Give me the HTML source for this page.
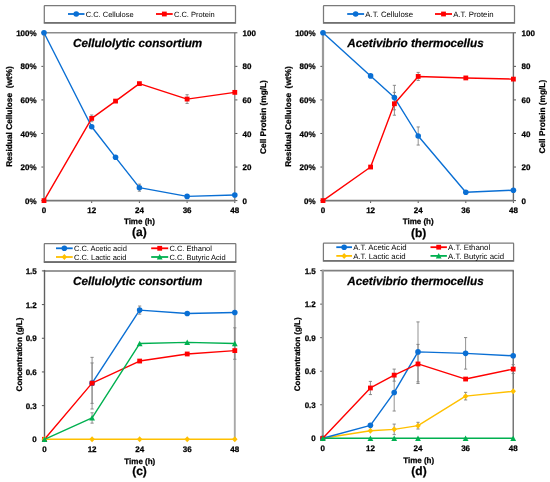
<!DOCTYPE html>
<html><head><meta charset="utf-8"><style>
html,body{margin:0;padding:0;background:#fff;width:550px;height:482px;overflow:hidden}
svg{display:block;filter:blur(0.25px)}
text{font-family:"Liberation Sans", sans-serif;text-rendering:geometricPrecision}
</style></head><body>
<svg width="550" height="482" viewBox="0 0 550 482">
<rect width="550" height="482" fill="#fff"/>
<rect x="44.30" y="5.50" width="191.20" height="17.20" fill="#fff" stroke="#7a7a7a" stroke-width="1.25" rx="0.6"/>
<line x1="43.70" y1="22.95" x2="236.10" y2="22.95" stroke="#6e6e6e" stroke-width="1.6"/>
<line x1="68.00" y1="14.00" x2="84.50" y2="14.00" stroke="#0A6FD4" stroke-width="1.8"/>
<circle cx="76.25" cy="14.00" r="2.80" fill="#0A6FD4"/>
<text x="85.70" y="16.70" font-size="7.5" font-weight="normal" font-style="normal" text-anchor="start" fill="#000">C.C. Cellulose</text>
<line x1="156.00" y1="14.00" x2="172.70" y2="14.00" stroke="#FF0000" stroke-width="1.8"/>
<rect x="161.95" y="11.60" width="4.80" height="4.80" fill="#FF0000"/>
<text x="173.90" y="16.70" font-size="7.5" font-weight="normal" font-style="normal" text-anchor="start" fill="#000">C.C. Protein</text>
<line x1="43.00" y1="32.80" x2="235.40" y2="32.80" stroke="#8c8c8c" stroke-width="1.5"/>
<line x1="234.80" y1="32.80" x2="234.80" y2="200.60" stroke="#707070" stroke-width="1.2"/>
<line x1="44.00" y1="32.05" x2="44.00" y2="200.60" stroke="#9a9a9a" stroke-width="2.0"/>
<line x1="43.00" y1="200.60" x2="235.40" y2="200.60" stroke="#777777" stroke-width="1.8"/>
<line x1="41.40" y1="200.60" x2="43.20" y2="200.60" stroke="#555555" stroke-width="1"/>
<text x="36.60" y="203.70" font-size="8" font-weight="bold" font-style="normal" text-anchor="end" fill="#000" stroke="#000" stroke-width="0.25">0%</text>
<line x1="235.20" y1="200.60" x2="237.40" y2="200.60" stroke="#555555" stroke-width="1"/>
<text x="242.60" y="203.70" font-size="8" font-weight="bold" font-style="normal" text-anchor="start" fill="#000" stroke="#000" stroke-width="0.25">0</text>
<line x1="41.40" y1="167.04" x2="43.20" y2="167.04" stroke="#555555" stroke-width="1"/>
<text x="36.60" y="170.14" font-size="8" font-weight="bold" font-style="normal" text-anchor="end" fill="#000" stroke="#000" stroke-width="0.25">20%</text>
<line x1="235.20" y1="167.04" x2="237.40" y2="167.04" stroke="#555555" stroke-width="1"/>
<text x="242.60" y="170.14" font-size="8" font-weight="bold" font-style="normal" text-anchor="start" fill="#000" stroke="#000" stroke-width="0.25">20</text>
<line x1="41.40" y1="133.48" x2="43.20" y2="133.48" stroke="#555555" stroke-width="1"/>
<text x="36.60" y="136.58" font-size="8" font-weight="bold" font-style="normal" text-anchor="end" fill="#000" stroke="#000" stroke-width="0.25">40%</text>
<line x1="235.20" y1="133.48" x2="237.40" y2="133.48" stroke="#555555" stroke-width="1"/>
<text x="242.60" y="136.58" font-size="8" font-weight="bold" font-style="normal" text-anchor="start" fill="#000" stroke="#000" stroke-width="0.25">40</text>
<line x1="41.40" y1="99.92" x2="43.20" y2="99.92" stroke="#555555" stroke-width="1"/>
<text x="36.60" y="103.02" font-size="8" font-weight="bold" font-style="normal" text-anchor="end" fill="#000" stroke="#000" stroke-width="0.25">60%</text>
<line x1="235.20" y1="99.92" x2="237.40" y2="99.92" stroke="#555555" stroke-width="1"/>
<text x="242.60" y="103.02" font-size="8" font-weight="bold" font-style="normal" text-anchor="start" fill="#000" stroke="#000" stroke-width="0.25">60</text>
<line x1="41.40" y1="66.36" x2="43.20" y2="66.36" stroke="#555555" stroke-width="1"/>
<text x="36.60" y="69.46" font-size="8" font-weight="bold" font-style="normal" text-anchor="end" fill="#000" stroke="#000" stroke-width="0.25">80%</text>
<line x1="235.20" y1="66.36" x2="237.40" y2="66.36" stroke="#555555" stroke-width="1"/>
<text x="242.60" y="69.46" font-size="8" font-weight="bold" font-style="normal" text-anchor="start" fill="#000" stroke="#000" stroke-width="0.25">80</text>
<line x1="41.40" y1="32.80" x2="43.20" y2="32.80" stroke="#555555" stroke-width="1"/>
<text x="36.60" y="35.90" font-size="8" font-weight="bold" font-style="normal" text-anchor="end" fill="#000" stroke="#000" stroke-width="0.25">100%</text>
<line x1="235.20" y1="32.80" x2="237.40" y2="32.80" stroke="#555555" stroke-width="1"/>
<text x="242.60" y="35.90" font-size="8" font-weight="bold" font-style="normal" text-anchor="start" fill="#000" stroke="#000" stroke-width="0.25">100</text>
<text x="44.00" y="213.20" font-size="8" font-weight="bold" font-style="normal" text-anchor="middle" fill="#000" stroke="#000" stroke-width="0.25">0</text>
<line x1="91.70" y1="201.30" x2="91.70" y2="203.00" stroke="#555555" stroke-width="1"/>
<text x="91.70" y="213.20" font-size="8" font-weight="bold" font-style="normal" text-anchor="middle" fill="#000" stroke="#000" stroke-width="0.25">12</text>
<line x1="139.40" y1="201.30" x2="139.40" y2="203.00" stroke="#555555" stroke-width="1"/>
<text x="139.40" y="213.20" font-size="8" font-weight="bold" font-style="normal" text-anchor="middle" fill="#000" stroke="#000" stroke-width="0.25">24</text>
<line x1="187.10" y1="201.30" x2="187.10" y2="203.00" stroke="#555555" stroke-width="1"/>
<text x="187.10" y="213.20" font-size="8" font-weight="bold" font-style="normal" text-anchor="middle" fill="#000" stroke="#000" stroke-width="0.25">36</text>
<line x1="234.80" y1="201.30" x2="234.80" y2="203.00" stroke="#555555" stroke-width="1"/>
<text x="234.80" y="213.20" font-size="8" font-weight="bold" font-style="normal" text-anchor="middle" fill="#000" stroke="#000" stroke-width="0.25">48</text>
<text x="11.50" y="116.50" font-size="8.3" font-weight="bold" font-style="normal" text-anchor="middle" fill="#000" stroke="#000" stroke-width="0.25" transform="rotate(-90 11.5 116.5)">Residual Cellulose&#160; (wt%)</text>
<text x="266.10" y="117.00" font-size="8.3" font-weight="bold" font-style="normal" text-anchor="middle" fill="#000" stroke="#000" stroke-width="0.25" transform="rotate(-90 266.1 117.0)">Cell Protein (mg/L)</text>
<text x="139.40" y="223.90" font-size="8" font-weight="bold" font-style="normal" text-anchor="middle" fill="#000" stroke="#000" stroke-width="0.25">Time (h)</text>
<text x="139.40" y="236.30" font-size="12" font-weight="bold" font-style="normal" text-anchor="middle" fill="#000" stroke="#000" stroke-width="0.25">(a)</text>
<text x="73.00" y="47.00" font-size="11.7" font-weight="bold" font-style="italic" text-anchor="start" fill="#000" stroke="#000" stroke-width="0.25">Cellulolytic consortium</text>
<line x1="91.70" y1="115.02" x2="91.70" y2="121.73" stroke="#7F7F7F" stroke-width="0.85"/>
<line x1="90.10" y1="115.02" x2="93.30" y2="115.02" stroke="#7F7F7F" stroke-width="0.9"/>
<line x1="90.10" y1="121.73" x2="93.30" y2="121.73" stroke="#7F7F7F" stroke-width="0.9"/>
<line x1="187.10" y1="94.72" x2="187.10" y2="103.44" stroke="#7F7F7F" stroke-width="0.85"/>
<line x1="185.50" y1="94.72" x2="188.70" y2="94.72" stroke="#7F7F7F" stroke-width="0.9"/>
<line x1="185.50" y1="103.44" x2="188.70" y2="103.44" stroke="#7F7F7F" stroke-width="0.9"/>
<line x1="139.40" y1="184.16" x2="139.40" y2="191.20" stroke="#7F7F7F" stroke-width="0.85"/>
<line x1="137.80" y1="184.16" x2="141.00" y2="184.16" stroke="#7F7F7F" stroke-width="0.9"/>
<line x1="137.80" y1="191.20" x2="141.00" y2="191.20" stroke="#7F7F7F" stroke-width="0.9"/>
<path d="M44.00 32.80 L91.70 126.77 L115.55 157.31 L139.40 187.68 L187.10 196.41 L234.80 195.06" fill="none" stroke="#0A6FD4" stroke-width="1.4" stroke-linejoin="round"/>
<circle cx="44.00" cy="32.80" r="2.80" fill="#0A6FD4"/>
<circle cx="91.70" cy="126.77" r="2.80" fill="#0A6FD4"/>
<circle cx="115.55" cy="157.31" r="2.80" fill="#0A6FD4"/>
<circle cx="139.40" cy="187.68" r="2.80" fill="#0A6FD4"/>
<circle cx="187.10" cy="196.41" r="2.80" fill="#0A6FD4"/>
<circle cx="234.80" cy="195.06" r="2.80" fill="#0A6FD4"/>
<path d="M44.00 200.60 L91.70 118.38 L115.55 101.09 L139.40 83.64 L187.10 99.08 L234.80 92.37" fill="none" stroke="#FF0000" stroke-width="1.4" stroke-linejoin="round"/>
<rect x="41.60" y="198.20" width="4.80" height="4.80" fill="#FF0000"/>
<rect x="89.30" y="115.98" width="4.80" height="4.80" fill="#FF0000"/>
<rect x="113.15" y="98.69" width="4.80" height="4.80" fill="#FF0000"/>
<rect x="137.00" y="81.24" width="4.80" height="4.80" fill="#FF0000"/>
<rect x="184.70" y="96.68" width="4.80" height="4.80" fill="#FF0000"/>
<rect x="232.40" y="89.97" width="4.80" height="4.80" fill="#FF0000"/>
<rect x="323.50" y="5.50" width="191.00" height="17.20" fill="#fff" stroke="#7a7a7a" stroke-width="1.25" rx="0.6"/>
<line x1="322.90" y1="22.95" x2="515.10" y2="22.95" stroke="#6e6e6e" stroke-width="1.6"/>
<line x1="347.20" y1="14.00" x2="364.10" y2="14.00" stroke="#0A6FD4" stroke-width="1.8"/>
<circle cx="355.65" cy="14.00" r="2.80" fill="#0A6FD4"/>
<text x="365.30" y="16.70" font-size="7.8" font-weight="normal" font-style="normal" text-anchor="start" fill="#000">A.T. Cellulose</text>
<line x1="435.00" y1="14.00" x2="452.00" y2="14.00" stroke="#FF0000" stroke-width="1.8"/>
<rect x="441.10" y="11.60" width="4.80" height="4.80" fill="#FF0000"/>
<text x="453.20" y="16.70" font-size="7.8" font-weight="normal" font-style="normal" text-anchor="start" fill="#000">A.T. Protein</text>
<line x1="321.90" y1="32.80" x2="514.10" y2="32.80" stroke="#8c8c8c" stroke-width="1.5"/>
<line x1="513.40" y1="32.80" x2="513.40" y2="200.60" stroke="#6a6a6a" stroke-width="1.4"/>
<line x1="323.00" y1="32.05" x2="323.00" y2="200.60" stroke="#9a9a9a" stroke-width="2.2"/>
<line x1="321.90" y1="200.60" x2="514.10" y2="200.60" stroke="#777777" stroke-width="1.7"/>
<line x1="320.40" y1="200.60" x2="322.10" y2="200.60" stroke="#555555" stroke-width="1"/>
<text x="315.60" y="203.70" font-size="8" font-weight="bold" font-style="normal" text-anchor="end" fill="#000" stroke="#000" stroke-width="0.25">0%</text>
<line x1="513.90" y1="200.60" x2="516.00" y2="200.60" stroke="#555555" stroke-width="1"/>
<text x="521.60" y="203.70" font-size="8" font-weight="bold" font-style="normal" text-anchor="start" fill="#000" stroke="#000" stroke-width="0.25">0</text>
<line x1="320.40" y1="167.04" x2="322.10" y2="167.04" stroke="#555555" stroke-width="1"/>
<text x="315.60" y="170.14" font-size="8" font-weight="bold" font-style="normal" text-anchor="end" fill="#000" stroke="#000" stroke-width="0.25">20%</text>
<line x1="513.90" y1="167.04" x2="516.00" y2="167.04" stroke="#555555" stroke-width="1"/>
<text x="521.60" y="170.14" font-size="8" font-weight="bold" font-style="normal" text-anchor="start" fill="#000" stroke="#000" stroke-width="0.25">20</text>
<line x1="320.40" y1="133.48" x2="322.10" y2="133.48" stroke="#555555" stroke-width="1"/>
<text x="315.60" y="136.58" font-size="8" font-weight="bold" font-style="normal" text-anchor="end" fill="#000" stroke="#000" stroke-width="0.25">40%</text>
<line x1="513.90" y1="133.48" x2="516.00" y2="133.48" stroke="#555555" stroke-width="1"/>
<text x="521.60" y="136.58" font-size="8" font-weight="bold" font-style="normal" text-anchor="start" fill="#000" stroke="#000" stroke-width="0.25">40</text>
<line x1="320.40" y1="99.92" x2="322.10" y2="99.92" stroke="#555555" stroke-width="1"/>
<text x="315.60" y="103.02" font-size="8" font-weight="bold" font-style="normal" text-anchor="end" fill="#000" stroke="#000" stroke-width="0.25">60%</text>
<line x1="513.90" y1="99.92" x2="516.00" y2="99.92" stroke="#555555" stroke-width="1"/>
<text x="521.60" y="103.02" font-size="8" font-weight="bold" font-style="normal" text-anchor="start" fill="#000" stroke="#000" stroke-width="0.25">60</text>
<line x1="320.40" y1="66.36" x2="322.10" y2="66.36" stroke="#555555" stroke-width="1"/>
<text x="315.60" y="69.46" font-size="8" font-weight="bold" font-style="normal" text-anchor="end" fill="#000" stroke="#000" stroke-width="0.25">80%</text>
<line x1="513.90" y1="66.36" x2="516.00" y2="66.36" stroke="#555555" stroke-width="1"/>
<text x="521.60" y="69.46" font-size="8" font-weight="bold" font-style="normal" text-anchor="start" fill="#000" stroke="#000" stroke-width="0.25">80</text>
<line x1="320.40" y1="32.80" x2="322.10" y2="32.80" stroke="#555555" stroke-width="1"/>
<text x="315.60" y="35.90" font-size="8" font-weight="bold" font-style="normal" text-anchor="end" fill="#000" stroke="#000" stroke-width="0.25">100%</text>
<line x1="513.90" y1="32.80" x2="516.00" y2="32.80" stroke="#555555" stroke-width="1"/>
<text x="521.60" y="35.90" font-size="8" font-weight="bold" font-style="normal" text-anchor="start" fill="#000" stroke="#000" stroke-width="0.25">100</text>
<text x="323.00" y="213.20" font-size="8" font-weight="bold" font-style="normal" text-anchor="middle" fill="#000" stroke="#000" stroke-width="0.25">0</text>
<line x1="370.60" y1="201.25" x2="370.60" y2="203.00" stroke="#555555" stroke-width="1"/>
<text x="370.60" y="213.20" font-size="8" font-weight="bold" font-style="normal" text-anchor="middle" fill="#000" stroke="#000" stroke-width="0.25">12</text>
<line x1="418.20" y1="201.25" x2="418.20" y2="203.00" stroke="#555555" stroke-width="1"/>
<text x="418.20" y="213.20" font-size="8" font-weight="bold" font-style="normal" text-anchor="middle" fill="#000" stroke="#000" stroke-width="0.25">24</text>
<line x1="465.80" y1="201.25" x2="465.80" y2="203.00" stroke="#555555" stroke-width="1"/>
<text x="465.80" y="213.20" font-size="8" font-weight="bold" font-style="normal" text-anchor="middle" fill="#000" stroke="#000" stroke-width="0.25">36</text>
<line x1="513.40" y1="201.25" x2="513.40" y2="203.00" stroke="#555555" stroke-width="1"/>
<text x="513.40" y="213.20" font-size="8" font-weight="bold" font-style="normal" text-anchor="middle" fill="#000" stroke="#000" stroke-width="0.25">48</text>
<text x="290.50" y="116.50" font-size="8.3" font-weight="bold" font-style="normal" text-anchor="middle" fill="#000" stroke="#000" stroke-width="0.25" transform="rotate(-90 290.5 116.5)">Residual Cellulose&#160; (wt%)</text>
<text x="544.80" y="116.70" font-size="8.3" font-weight="bold" font-style="normal" text-anchor="middle" fill="#000" stroke="#000" stroke-width="0.25" transform="rotate(-90 544.8 116.7)">Cell Protein (mg/L)</text>
<text x="418.20" y="223.90" font-size="8" font-weight="bold" font-style="normal" text-anchor="middle" fill="#000" stroke="#000" stroke-width="0.25">Time (h)</text>
<text x="418.60" y="236.60" font-size="12" font-weight="bold" font-style="normal" text-anchor="middle" fill="#000" stroke="#000" stroke-width="0.25">(b)</text>
<text x="347.30" y="46.60" font-size="11.7" font-weight="bold" font-style="italic" text-anchor="start" fill="#000" stroke="#000" stroke-width="0.25">Acetivibrio thermocellus</text>
<line x1="394.40" y1="85.32" x2="394.40" y2="109.82" stroke="#7F7F7F" stroke-width="0.85"/>
<line x1="392.80" y1="85.32" x2="396.00" y2="85.32" stroke="#7F7F7F" stroke-width="0.9"/>
<line x1="392.80" y1="109.82" x2="396.00" y2="109.82" stroke="#7F7F7F" stroke-width="0.9"/>
<line x1="418.20" y1="126.94" x2="418.20" y2="145.06" stroke="#7F7F7F" stroke-width="0.85"/>
<line x1="416.60" y1="126.94" x2="419.80" y2="126.94" stroke="#7F7F7F" stroke-width="0.9"/>
<line x1="416.60" y1="145.06" x2="419.80" y2="145.06" stroke="#7F7F7F" stroke-width="0.9"/>
<line x1="394.40" y1="92.37" x2="394.40" y2="115.19" stroke="#7F7F7F" stroke-width="0.85"/>
<line x1="392.80" y1="92.37" x2="396.00" y2="92.37" stroke="#7F7F7F" stroke-width="0.9"/>
<line x1="392.80" y1="115.19" x2="396.00" y2="115.19" stroke="#7F7F7F" stroke-width="0.9"/>
<line x1="418.20" y1="72.40" x2="418.20" y2="80.46" stroke="#7F7F7F" stroke-width="0.85"/>
<line x1="416.60" y1="72.40" x2="419.80" y2="72.40" stroke="#7F7F7F" stroke-width="0.9"/>
<line x1="416.60" y1="80.46" x2="419.80" y2="80.46" stroke="#7F7F7F" stroke-width="0.9"/>
<path d="M323.00 32.80 L370.60 75.92 L394.40 97.57 L418.20 136.00 L465.80 192.21 L513.40 190.20" fill="none" stroke="#0A6FD4" stroke-width="1.4" stroke-linejoin="round"/>
<circle cx="323.00" cy="32.80" r="2.80" fill="#0A6FD4"/>
<circle cx="370.60" cy="75.92" r="2.80" fill="#0A6FD4"/>
<circle cx="394.40" cy="97.57" r="2.80" fill="#0A6FD4"/>
<circle cx="418.20" cy="136.00" r="2.80" fill="#0A6FD4"/>
<circle cx="465.80" cy="192.21" r="2.80" fill="#0A6FD4"/>
<circle cx="513.40" cy="190.20" r="2.80" fill="#0A6FD4"/>
<path d="M323.00 200.60 L370.60 167.04 L394.40 103.78 L418.20 76.43 L465.80 77.94 L513.40 79.11" fill="none" stroke="#FF0000" stroke-width="1.4" stroke-linejoin="round"/>
<rect x="320.60" y="198.20" width="4.80" height="4.80" fill="#FF0000"/>
<rect x="368.20" y="164.64" width="4.80" height="4.80" fill="#FF0000"/>
<rect x="392.00" y="101.38" width="4.80" height="4.80" fill="#FF0000"/>
<rect x="415.80" y="74.03" width="4.80" height="4.80" fill="#FF0000"/>
<rect x="463.40" y="75.54" width="4.80" height="4.80" fill="#FF0000"/>
<rect x="511.00" y="76.71" width="4.80" height="4.80" fill="#FF0000"/>
<rect x="44.30" y="243.70" width="191.50" height="18.20" fill="#fff" stroke="#7a7a7a" stroke-width="1.25" rx="0.6"/>
<line x1="43.70" y1="262.15" x2="236.40" y2="262.15" stroke="#6e6e6e" stroke-width="1.6"/>
<line x1="56.00" y1="248.30" x2="72.70" y2="248.30" stroke="#0A6FD4" stroke-width="1.8"/>
<circle cx="64.35" cy="248.30" r="2.80" fill="#0A6FD4"/>
<text x="73.90" y="251.00" font-size="7.5" font-weight="normal" font-style="normal" text-anchor="start" fill="#000">C.C. Acetic acid</text>
<line x1="151.20" y1="248.30" x2="168.20" y2="248.30" stroke="#FF0000" stroke-width="1.8"/>
<rect x="157.30" y="245.90" width="4.80" height="4.80" fill="#FF0000"/>
<text x="169.40" y="251.00" font-size="7.5" font-weight="normal" font-style="normal" text-anchor="start" fill="#000">C.C. Ethanol</text>
<line x1="56.00" y1="257.00" x2="72.70" y2="257.00" stroke="#FFC000" stroke-width="1.8"/>
<path d="M64.35 254.00L67.11 257.00L64.35 260.00L61.59 257.00Z" fill="#FFC000"/>
<text x="73.90" y="259.70" font-size="7.5" font-weight="normal" font-style="normal" text-anchor="start" fill="#000">C.C. Lactic acid</text>
<line x1="151.20" y1="257.00" x2="168.20" y2="257.00" stroke="#00B050" stroke-width="1.8"/>
<path d="M159.70 254.10L162.60 259.61L156.80 259.61Z" fill="#00B050"/>
<text x="169.40" y="259.70" font-size="7.5" font-weight="normal" font-style="normal" text-anchor="start" fill="#000">C.C. Butyric Acid</text>
<line x1="43.80" y1="270.90" x2="235.75" y2="270.90" stroke="#999999" stroke-width="2.0"/>
<line x1="234.80" y1="270.90" x2="234.80" y2="439.30" stroke="#a8a8a8" stroke-width="1.9"/>
<line x1="44.50" y1="269.90" x2="44.50" y2="439.30" stroke="#606060" stroke-width="1.4"/>
<line x1="43.80" y1="439.30" x2="235.75" y2="439.30" stroke="none" stroke-width="1.6"/>
<line x1="41.90" y1="439.30" x2="44.00" y2="439.30" stroke="#555555" stroke-width="1"/>
<text x="36.80" y="442.40" font-size="8" font-weight="bold" font-style="normal" text-anchor="end" fill="#000" stroke="#000" stroke-width="0.25">0</text>
<line x1="41.90" y1="405.62" x2="44.00" y2="405.62" stroke="#555555" stroke-width="1"/>
<text x="36.80" y="408.72" font-size="8" font-weight="bold" font-style="normal" text-anchor="end" fill="#000" stroke="#000" stroke-width="0.25">0.3</text>
<line x1="41.90" y1="371.94" x2="44.00" y2="371.94" stroke="#555555" stroke-width="1"/>
<text x="36.80" y="375.04" font-size="8" font-weight="bold" font-style="normal" text-anchor="end" fill="#000" stroke="#000" stroke-width="0.25">0.6</text>
<line x1="41.90" y1="338.26" x2="44.00" y2="338.26" stroke="#555555" stroke-width="1"/>
<text x="36.80" y="341.36" font-size="8" font-weight="bold" font-style="normal" text-anchor="end" fill="#000" stroke="#000" stroke-width="0.25">0.9</text>
<line x1="41.90" y1="304.58" x2="44.00" y2="304.58" stroke="#555555" stroke-width="1"/>
<text x="36.80" y="307.68" font-size="8" font-weight="bold" font-style="normal" text-anchor="end" fill="#000" stroke="#000" stroke-width="0.25">1.2</text>
<line x1="41.90" y1="270.90" x2="44.00" y2="270.90" stroke="#555555" stroke-width="1"/>
<text x="36.80" y="274.00" font-size="8" font-weight="bold" font-style="normal" text-anchor="end" fill="#000" stroke="#000" stroke-width="0.25">1.5</text>
<text x="44.50" y="451.90" font-size="8" font-weight="bold" font-style="normal" text-anchor="middle" fill="#000" stroke="#000" stroke-width="0.25">0</text>
<text x="92.08" y="451.90" font-size="8" font-weight="bold" font-style="normal" text-anchor="middle" fill="#000" stroke="#000" stroke-width="0.25">12</text>
<text x="139.65" y="451.90" font-size="8" font-weight="bold" font-style="normal" text-anchor="middle" fill="#000" stroke="#000" stroke-width="0.25">24</text>
<text x="187.22" y="451.90" font-size="8" font-weight="bold" font-style="normal" text-anchor="middle" fill="#000" stroke="#000" stroke-width="0.25">36</text>
<text x="234.80" y="451.90" font-size="8" font-weight="bold" font-style="normal" text-anchor="middle" fill="#000" stroke="#000" stroke-width="0.25">48</text>
<text x="21.60" y="354.50" font-size="8" font-weight="bold" font-style="normal" text-anchor="middle" fill="#000" stroke="#000" stroke-width="0.25" transform="rotate(-90 21.6 354.5)">Concentration (g/L)</text>
<text x="139.80" y="464.00" font-size="8" font-weight="bold" font-style="normal" text-anchor="middle" fill="#000" stroke="#000" stroke-width="0.25">Time (h)</text>
<text x="139.50" y="475.00" font-size="12" font-weight="bold" font-style="normal" text-anchor="middle" fill="#000" stroke="#000" stroke-width="0.25">(c)</text>
<text x="73.10" y="285.10" font-size="11.7" font-weight="bold" font-style="italic" text-anchor="start" fill="#000" stroke="#000" stroke-width="0.25">Cellulolytic consortium</text>
<line x1="92.08" y1="362.96" x2="92.08" y2="403.37" stroke="#7F7F7F" stroke-width="0.85"/>
<line x1="90.48" y1="362.96" x2="93.68" y2="362.96" stroke="#7F7F7F" stroke-width="0.9"/>
<line x1="90.48" y1="403.37" x2="93.68" y2="403.37" stroke="#7F7F7F" stroke-width="0.9"/>
<line x1="92.08" y1="357.35" x2="92.08" y2="408.99" stroke="#7F7F7F" stroke-width="0.85"/>
<line x1="90.48" y1="357.35" x2="93.68" y2="357.35" stroke="#7F7F7F" stroke-width="0.9"/>
<line x1="90.48" y1="408.99" x2="93.68" y2="408.99" stroke="#7F7F7F" stroke-width="0.9"/>
<line x1="139.65" y1="306.04" x2="139.65" y2="314.12" stroke="#7F7F7F" stroke-width="0.85"/>
<line x1="138.05" y1="306.04" x2="141.25" y2="306.04" stroke="#7F7F7F" stroke-width="0.9"/>
<line x1="138.05" y1="314.12" x2="141.25" y2="314.12" stroke="#7F7F7F" stroke-width="0.9"/>
<line x1="92.08" y1="412.81" x2="92.08" y2="423.13" stroke="#7F7F7F" stroke-width="0.85"/>
<line x1="90.48" y1="412.81" x2="93.68" y2="412.81" stroke="#7F7F7F" stroke-width="0.9"/>
<line x1="90.48" y1="423.13" x2="93.68" y2="423.13" stroke="#7F7F7F" stroke-width="0.9"/>
<line x1="234.80" y1="327.82" x2="234.80" y2="359.25" stroke="#7F7F7F" stroke-width="0.85"/>
<line x1="233.20" y1="327.82" x2="236.40" y2="327.82" stroke="#7F7F7F" stroke-width="0.9"/>
<line x1="233.20" y1="359.25" x2="236.40" y2="359.25" stroke="#7F7F7F" stroke-width="0.9"/>
<path d="M92.08 383.17 L139.65 310.08 L187.22 313.45 L234.80 312.44" fill="none" stroke="#0A6FD4" stroke-width="1.4" stroke-linejoin="round"/>
<circle cx="92.08" cy="383.17" r="2.80" fill="#0A6FD4"/>
<circle cx="139.65" cy="310.08" r="2.80" fill="#0A6FD4"/>
<circle cx="187.22" cy="313.45" r="2.80" fill="#0A6FD4"/>
<circle cx="234.80" cy="312.44" r="2.80" fill="#0A6FD4"/>
<path d="M44.50 439.30 L92.08 383.17 L139.65 361.05 L187.22 353.98 L234.80 350.61" fill="none" stroke="#FF0000" stroke-width="1.4" stroke-linejoin="round"/>
<rect x="42.10" y="436.90" width="4.80" height="4.80" fill="#FF0000"/>
<rect x="89.68" y="380.77" width="4.80" height="4.80" fill="#FF0000"/>
<rect x="137.25" y="358.65" width="4.80" height="4.80" fill="#FF0000"/>
<rect x="184.82" y="351.58" width="4.80" height="4.80" fill="#FF0000"/>
<rect x="232.40" y="348.21" width="4.80" height="4.80" fill="#FF0000"/>
<path d="M44.50 439.30 L92.08 439.30 L139.65 439.30 L187.22 439.30 L234.80 439.30" fill="none" stroke="#FFC000" stroke-width="1.4" stroke-linejoin="round"/>
<path d="M44.50 436.30L47.26 439.30L44.50 442.30L41.74 439.30Z" fill="#FFC000"/>
<path d="M92.08 436.30L94.84 439.30L92.08 442.30L89.32 439.30Z" fill="#FFC000"/>
<path d="M139.65 436.30L142.41 439.30L139.65 442.30L136.89 439.30Z" fill="#FFC000"/>
<path d="M187.22 436.30L189.98 439.30L187.22 442.30L184.47 439.30Z" fill="#FFC000"/>
<path d="M234.80 436.30L237.56 439.30L234.80 442.30L232.04 439.30Z" fill="#FFC000"/>
<path d="M44.50 439.30 L92.08 417.97 L139.65 343.54 L187.22 342.41 L234.80 343.54" fill="none" stroke="#00B050" stroke-width="1.4" stroke-linejoin="round"/>
<path d="M44.50 436.40L47.40 441.91L41.60 441.91Z" fill="#00B050"/>
<path d="M92.08 415.07L94.98 420.58L89.18 420.58Z" fill="#00B050"/>
<path d="M139.65 340.64L142.55 346.15L136.75 346.15Z" fill="#00B050"/>
<path d="M187.22 339.51L190.12 345.02L184.32 345.02Z" fill="#00B050"/>
<path d="M234.80 340.64L237.70 346.15L231.90 346.15Z" fill="#00B050"/>
<rect x="323.40" y="243.10" width="190.20" height="17.60" fill="#fff" stroke="#7a7a7a" stroke-width="1.25" rx="0.6"/>
<line x1="322.80" y1="260.95" x2="514.20" y2="260.95" stroke="#6e6e6e" stroke-width="1.6"/>
<line x1="336.30" y1="247.20" x2="352.00" y2="247.20" stroke="#0A6FD4" stroke-width="1.8"/>
<circle cx="344.15" cy="247.20" r="2.80" fill="#0A6FD4"/>
<text x="353.20" y="249.90" font-size="7.8" font-weight="normal" font-style="normal" text-anchor="start" fill="#000">A.T. Acetic Acid</text>
<line x1="430.50" y1="247.20" x2="446.90" y2="247.20" stroke="#FF0000" stroke-width="1.8"/>
<rect x="436.30" y="244.80" width="4.80" height="4.80" fill="#FF0000"/>
<text x="448.10" y="249.90" font-size="7.8" font-weight="normal" font-style="normal" text-anchor="start" fill="#000">A.T. Ethanol</text>
<line x1="336.30" y1="255.90" x2="352.00" y2="255.90" stroke="#FFC000" stroke-width="1.8"/>
<path d="M344.15 252.90L346.91 255.90L344.15 258.90L341.39 255.90Z" fill="#FFC000"/>
<text x="353.20" y="258.60" font-size="7.8" font-weight="normal" font-style="normal" text-anchor="start" fill="#000">A.T. Lactic acid</text>
<line x1="430.50" y1="255.90" x2="446.90" y2="255.90" stroke="#00B050" stroke-width="1.8"/>
<path d="M438.70 253.00L441.60 258.51L435.80 258.51Z" fill="#00B050"/>
<text x="448.10" y="258.60" font-size="7.8" font-weight="normal" font-style="normal" text-anchor="start" fill="#000">A.T. Butyric acid</text>
<line x1="321.70" y1="270.60" x2="513.80" y2="270.60" stroke="#808080" stroke-width="1.6"/>
<line x1="513.20" y1="270.60" x2="513.20" y2="438.30" stroke="#555555" stroke-width="1.2"/>
<line x1="322.80" y1="269.80" x2="322.80" y2="438.30" stroke="#9a9a9a" stroke-width="2.2"/>
<line x1="321.70" y1="438.30" x2="513.80" y2="438.30" stroke="none" stroke-width="1.6"/>
<line x1="320.20" y1="438.30" x2="321.90" y2="438.30" stroke="#555555" stroke-width="1"/>
<text x="315.80" y="441.40" font-size="8" font-weight="bold" font-style="normal" text-anchor="end" fill="#000" stroke="#000" stroke-width="0.25">0</text>
<line x1="320.20" y1="404.76" x2="321.90" y2="404.76" stroke="#555555" stroke-width="1"/>
<text x="315.80" y="407.86" font-size="8" font-weight="bold" font-style="normal" text-anchor="end" fill="#000" stroke="#000" stroke-width="0.25">0.3</text>
<line x1="320.20" y1="371.22" x2="321.90" y2="371.22" stroke="#555555" stroke-width="1"/>
<text x="315.80" y="374.32" font-size="8" font-weight="bold" font-style="normal" text-anchor="end" fill="#000" stroke="#000" stroke-width="0.25">0.6</text>
<line x1="320.20" y1="337.68" x2="321.90" y2="337.68" stroke="#555555" stroke-width="1"/>
<text x="315.80" y="340.78" font-size="8" font-weight="bold" font-style="normal" text-anchor="end" fill="#000" stroke="#000" stroke-width="0.25">0.9</text>
<line x1="320.20" y1="304.14" x2="321.90" y2="304.14" stroke="#555555" stroke-width="1"/>
<text x="315.80" y="307.24" font-size="8" font-weight="bold" font-style="normal" text-anchor="end" fill="#000" stroke="#000" stroke-width="0.25">1.2</text>
<line x1="320.20" y1="270.60" x2="321.90" y2="270.60" stroke="#555555" stroke-width="1"/>
<text x="315.80" y="273.70" font-size="8" font-weight="bold" font-style="normal" text-anchor="end" fill="#000" stroke="#000" stroke-width="0.25">1.5</text>
<text x="322.80" y="450.90" font-size="8" font-weight="bold" font-style="normal" text-anchor="middle" fill="#000" stroke="#000" stroke-width="0.25">0</text>
<text x="370.40" y="450.90" font-size="8" font-weight="bold" font-style="normal" text-anchor="middle" fill="#000" stroke="#000" stroke-width="0.25">12</text>
<text x="418.00" y="450.90" font-size="8" font-weight="bold" font-style="normal" text-anchor="middle" fill="#000" stroke="#000" stroke-width="0.25">24</text>
<text x="465.60" y="450.90" font-size="8" font-weight="bold" font-style="normal" text-anchor="middle" fill="#000" stroke="#000" stroke-width="0.25">36</text>
<text x="513.20" y="450.90" font-size="8" font-weight="bold" font-style="normal" text-anchor="middle" fill="#000" stroke="#000" stroke-width="0.25">48</text>
<text x="300.10" y="354.30" font-size="8" font-weight="bold" font-style="normal" text-anchor="middle" fill="#000" stroke="#000" stroke-width="0.25" transform="rotate(-90 300.1 354.3)">Concentration (g/L)</text>
<text x="418.70" y="462.50" font-size="8" font-weight="bold" font-style="normal" text-anchor="middle" fill="#000" stroke="#000" stroke-width="0.25">Time (h)</text>
<text x="419.00" y="475.00" font-size="12" font-weight="bold" font-style="normal" text-anchor="middle" fill="#000" stroke="#000" stroke-width="0.25">(d)</text>
<text x="347.30" y="285.10" font-size="11.7" font-weight="bold" font-style="italic" text-anchor="start" fill="#000" stroke="#000" stroke-width="0.25">Acetivibrio thermocellus</text>
<line x1="394.20" y1="373.90" x2="394.20" y2="411.02" stroke="#7F7F7F" stroke-width="0.85"/>
<line x1="392.60" y1="373.90" x2="395.80" y2="373.90" stroke="#7F7F7F" stroke-width="0.9"/>
<line x1="392.60" y1="411.02" x2="395.80" y2="411.02" stroke="#7F7F7F" stroke-width="0.9"/>
<line x1="418.00" y1="321.92" x2="418.00" y2="381.84" stroke="#7F7F7F" stroke-width="0.85"/>
<line x1="416.40" y1="321.92" x2="419.60" y2="321.92" stroke="#7F7F7F" stroke-width="0.9"/>
<line x1="416.40" y1="381.84" x2="419.60" y2="381.84" stroke="#7F7F7F" stroke-width="0.9"/>
<line x1="465.60" y1="337.57" x2="465.60" y2="369.10" stroke="#7F7F7F" stroke-width="0.85"/>
<line x1="464.00" y1="337.57" x2="467.20" y2="337.57" stroke="#7F7F7F" stroke-width="0.9"/>
<line x1="464.00" y1="369.10" x2="467.20" y2="369.10" stroke="#7F7F7F" stroke-width="0.9"/>
<line x1="370.40" y1="381.39" x2="370.40" y2="394.59" stroke="#7F7F7F" stroke-width="0.85"/>
<line x1="368.80" y1="381.39" x2="372.00" y2="381.39" stroke="#7F7F7F" stroke-width="0.9"/>
<line x1="368.80" y1="394.59" x2="372.00" y2="394.59" stroke="#7F7F7F" stroke-width="0.9"/>
<line x1="394.20" y1="369.10" x2="394.20" y2="381.17" stroke="#7F7F7F" stroke-width="0.85"/>
<line x1="392.60" y1="369.10" x2="395.80" y2="369.10" stroke="#7F7F7F" stroke-width="0.9"/>
<line x1="392.60" y1="381.17" x2="395.80" y2="381.17" stroke="#7F7F7F" stroke-width="0.9"/>
<line x1="418.00" y1="344.39" x2="418.00" y2="383.52" stroke="#7F7F7F" stroke-width="0.85"/>
<line x1="416.40" y1="344.39" x2="419.60" y2="344.39" stroke="#7F7F7F" stroke-width="0.9"/>
<line x1="416.40" y1="383.52" x2="419.60" y2="383.52" stroke="#7F7F7F" stroke-width="0.9"/>
<line x1="513.20" y1="364.62" x2="513.20" y2="373.57" stroke="#7F7F7F" stroke-width="0.85"/>
<line x1="511.60" y1="364.62" x2="514.80" y2="364.62" stroke="#7F7F7F" stroke-width="0.9"/>
<line x1="511.60" y1="373.57" x2="514.80" y2="373.57" stroke="#7F7F7F" stroke-width="0.9"/>
<line x1="394.20" y1="424.10" x2="394.20" y2="434.61" stroke="#7F7F7F" stroke-width="0.85"/>
<line x1="392.60" y1="424.10" x2="395.80" y2="424.10" stroke="#7F7F7F" stroke-width="0.9"/>
<line x1="392.60" y1="434.61" x2="395.80" y2="434.61" stroke="#7F7F7F" stroke-width="0.9"/>
<line x1="418.00" y1="422.31" x2="418.00" y2="429.02" stroke="#7F7F7F" stroke-width="0.85"/>
<line x1="416.40" y1="422.31" x2="419.60" y2="422.31" stroke="#7F7F7F" stroke-width="0.9"/>
<line x1="416.40" y1="429.02" x2="419.60" y2="429.02" stroke="#7F7F7F" stroke-width="0.9"/>
<line x1="465.60" y1="392.35" x2="465.60" y2="399.95" stroke="#7F7F7F" stroke-width="0.85"/>
<line x1="464.00" y1="392.35" x2="467.20" y2="392.35" stroke="#7F7F7F" stroke-width="0.9"/>
<line x1="464.00" y1="399.95" x2="467.20" y2="399.95" stroke="#7F7F7F" stroke-width="0.9"/>
<path d="M322.80 438.30 L370.40 430.81 L394.20 429.36 L418.00 425.67 L465.60 396.15 L513.20 391.34" fill="none" stroke="#FFC000" stroke-width="1.4" stroke-linejoin="round"/>
<path d="M322.80 435.30L325.56 438.30L322.80 441.30L320.04 438.30Z" fill="#FFC000"/>
<path d="M370.40 427.81L373.16 430.81L370.40 433.81L367.64 430.81Z" fill="#FFC000"/>
<path d="M394.20 426.36L396.96 429.36L394.20 432.36L391.44 429.36Z" fill="#FFC000"/>
<path d="M418.00 422.67L420.76 425.67L418.00 428.67L415.24 425.67Z" fill="#FFC000"/>
<path d="M465.60 393.15L468.36 396.15L465.60 399.15L462.84 396.15Z" fill="#FFC000"/>
<path d="M513.20 388.34L515.96 391.34L513.20 394.34L510.44 391.34Z" fill="#FFC000"/>
<path d="M322.80 438.30 L370.40 425.33 L394.20 392.46 L418.00 351.88 L465.60 353.33 L513.20 355.79" fill="none" stroke="#0A6FD4" stroke-width="1.4" stroke-linejoin="round"/>
<circle cx="322.80" cy="438.30" r="2.80" fill="#0A6FD4"/>
<circle cx="370.40" cy="425.33" r="2.80" fill="#0A6FD4"/>
<circle cx="394.20" cy="392.46" r="2.80" fill="#0A6FD4"/>
<circle cx="418.00" cy="351.88" r="2.80" fill="#0A6FD4"/>
<circle cx="465.60" cy="353.33" r="2.80" fill="#0A6FD4"/>
<circle cx="513.20" cy="355.79" r="2.80" fill="#0A6FD4"/>
<path d="M322.80 438.30 L370.40 387.99 L394.20 375.13 L418.00 363.95 L465.60 379.05 L513.20 369.10" fill="none" stroke="#FF0000" stroke-width="1.4" stroke-linejoin="round"/>
<rect x="320.40" y="435.90" width="4.80" height="4.80" fill="#FF0000"/>
<rect x="368.00" y="385.59" width="4.80" height="4.80" fill="#FF0000"/>
<rect x="391.80" y="372.73" width="4.80" height="4.80" fill="#FF0000"/>
<rect x="415.60" y="361.55" width="4.80" height="4.80" fill="#FF0000"/>
<rect x="463.20" y="376.65" width="4.80" height="4.80" fill="#FF0000"/>
<rect x="510.80" y="366.70" width="4.80" height="4.80" fill="#FF0000"/>
<path d="M322.80 438.30 L370.40 438.30 L394.20 438.30 L418.00 438.30 L465.60 438.30 L513.20 438.30" fill="none" stroke="#00B050" stroke-width="1.4" stroke-linejoin="round"/>
<path d="M322.80 435.40L325.70 440.91L319.90 440.91Z" fill="#00B050"/>
<path d="M370.40 435.40L373.30 440.91L367.50 440.91Z" fill="#00B050"/>
<path d="M394.20 435.40L397.10 440.91L391.30 440.91Z" fill="#00B050"/>
<path d="M418.00 435.40L420.90 440.91L415.10 440.91Z" fill="#00B050"/>
<path d="M465.60 435.40L468.50 440.91L462.70 440.91Z" fill="#00B050"/>
<path d="M513.20 435.40L516.10 440.91L510.30 440.91Z" fill="#00B050"/>
</svg></body></html>
